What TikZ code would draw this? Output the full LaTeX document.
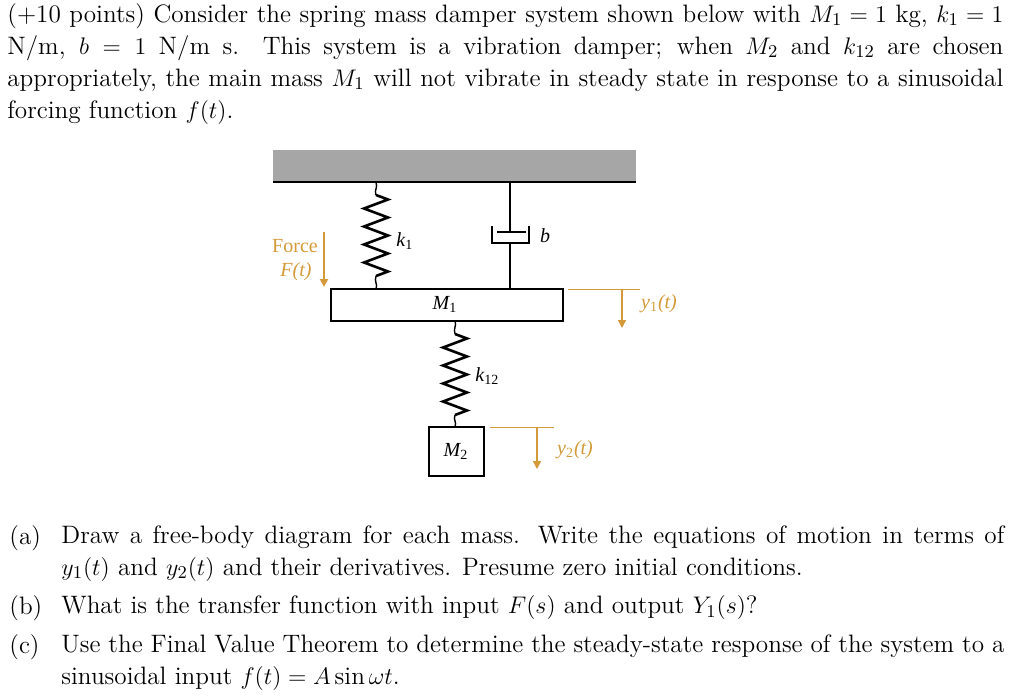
\documentclass[tikz,border=0pt]{standalone}
\usepackage{fontspec}
\newfontfamily\tms{Liberation Serif}
\usetikzlibrary{decorations.pathmorphing,arrows.meta}
\definecolor{orng}{HTML}{D49A3A}
\begin{document}
\begin{tikzpicture}[x=0.5pt,y=-0.5pt,
  spring/.style={line width=1.3pt,decorate,decoration={zigzag,segment length=9pt,amplitude=6pt,pre length=0pt,post length=0pt}},
  mass/.style={draw,line width=0.9pt,inner sep=0pt},
  lab/.style={font=\tms\fontsize{10}{11}\selectfont\itshape,inner sep=0pt},
  olab/.style={lab,text=orng},
  oarr/.style={orng,line width=1.1pt,-{Triangle[length=4pt,width=4pt]}},
  txt/.style={font=\fontsize{12.6}{16}\selectfont,inner sep=0pt,align=justify,anchor=north west},
  itxt/.style={txt,text width=471.5pt}]
\useasboundingbox (0,0) rectangle (1024,697);
% text
\node[txt,text width=498pt] (head) at (7,3) {(+10 points) Consider the spring mass damper system shown below with $M_1=1$ kg, $k_1=1$\linebreak N/m, $b=1$ N/m s. This system is a vibration damper; when $M_2$ and $k_{12}$ are chosen\linebreak appropriately, the main mass $M_1$ will not vibrate in steady state in response to a sinusoidal forcing function $f(t)$.};
\node[txt] (la) at (9,525) {(a)};
\node[itxt] (qa) at (61,525) {Draw a free-body diagram for each mass. Write the equations of motion in terms of\linebreak $y_1(t)$ and $y_2(t)$ and their derivatives. Presume zero initial conditions.};
\node[txt] (lb) at (9,595) {(b)};
\node[itxt] (qb) at (61,595) {What is the transfer function with input $F(s)$ and output $Y_1(s)$?};
\node[txt] (lc) at (9,634) {(c)};
\node[itxt] (qc) at (61,634) {Use the Final Value Theorem to determine the steady-state response of the system to a sinusoidal input $f(t)=A\sin\omega t$.};
% ceiling
\fill[black!35] (273,150) rectangle (636,182);
\draw[line width=1.3pt] (273,182) -- (636,182);
\coordinate (c1) at (376,182);
\coordinate (c2) at (510,182);
% masses
\node[mass,minimum width=116pt,minimum height=16pt] (m1) at (447,305) {};
\node[lab] at (445,304) {M\textsubscript{\upshape 1}};
\node[mass,minimum width=27.5pt,minimum height=24.5pt] (m2) at (456.5,451.5) {};
\node[lab] at (456,451) {M\textsubscript{\upshape 2}};
% spring k1
\draw[line width=0.7pt] (c1) .. controls (378,188) and (374,190) .. (376,195);
\draw[spring] (376,195) -- (376,276);
\draw[line width=0.7pt] (376,276) .. controls (374,282) and (378,284) .. (376,289);
\node[lab,anchor=west] at (396,241) {k\textsubscript{\upshape 1}};
% spring k12
\draw[line width=0.7pt] (455,321) .. controls (457,326) and (453,328) .. (455,334);
\draw[spring] (455,334) -- (455,415);
\draw[line width=0.7pt] (455,415) .. controls (453,420) and (457,422) .. (455,427);
\node[lab,anchor=west] at (475,376) {k\textsubscript{\upshape 12}};
% damper
\draw[line width=0.6pt] (c2) -- (510,232);
\draw[line width=0.8pt] (497,232) -- (526,232);
\draw[line width=0.8pt] (492,226) -- (492,243) -- (529,243) -- (529,226);
\draw[line width=0.6pt] (510,243) -- (510,289);
\node[lab] at (545,236) {b};
% force
\draw[oarr] (324,232) -- (324,287);
\node[olab,font=\tms\fontsize{10}{11}\selectfont] at (295,246) {Force};
\node[olab] at (296,272) {F(t)};
% y1
\draw[orng,line width=0.5pt] (568,289) -- (640,289);
\draw[oarr,line width=0.7pt] (622,289) -- (622,328);
\node[olab] at (659,304) {y\textsubscript{\upshape 1}(t)};
% y2
\draw[orng,line width=0.5pt] (490,427) -- (554,427);
\draw[oarr,line width=0.7pt] (537,427) -- (537,469);
\node[olab] at (575,450) {y\textsubscript{\upshape 2}(t)};
\end{tikzpicture}
\end{document}
